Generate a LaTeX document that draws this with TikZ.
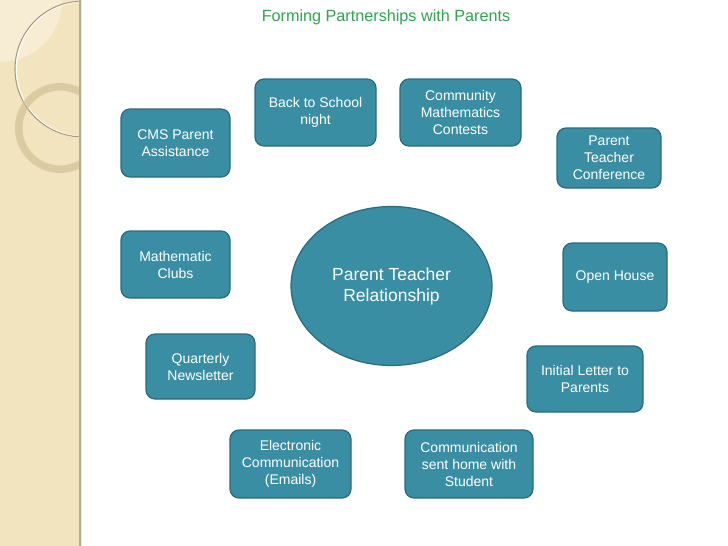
\documentclass[tikz,border=0pt]{standalone}
\usepackage{fontspec}
\setmainfont{Liberation Sans}
\usetikzlibrary{shapes.geometric}
\definecolor{boxfill}{HTML}{3A8EA4}
\definecolor{boxline}{HTML}{2A6B7C}
\definecolor{titlegreen}{HTML}{2FA54E}
\definecolor{strip}{HTML}{F3E4C0}
\definecolor{stripedge}{HTML}{BBAA88}
\definecolor{ringtan}{HTML}{D2C196}
\definecolor{arcgray}{HTML}{A99A78}
\tikzset{
  topic/.style={draw=boxline, line width=1.2pt, fill=boxfill, rounded corners=9pt,
    text=white, align=center, inner sep=0pt, font=\fontsize{14}{17}\selectfont},
  hub/.style={draw=boxline, line width=1.2pt, fill=boxfill, ellipse, text=white,
    align=center, inner sep=0pt, minimum width=201pt, minimum height=159pt,
    font=\fontsize{17.5}{21}\selectfont},
  heading/.style={text=titlegreen, font=\fontsize{16.2}{19}\selectfont}
}
\begin{document}
\begin{tikzpicture}[x=1pt,y=-1pt]
\useasboundingbox (0,0) rectangle (728,546);
\fill[white] (0,0) rectangle (728,546);
% left decorative strip
\fill[strip] (0,0) rectangle (79,546);
\begin{scope}
  \clip (0,0) rectangle (79,546);
  \fill[white, opacity=0.35] (0,0) circle (62);
  \draw[white, line width=2pt] (84,69) circle (68);
  \draw[arcgray, line width=1.1pt] (83,69) circle (68);
  \fill[ringtan, opacity=0.7, even odd rule] (60,128) circle (45) (60,128) circle (37.5);
\end{scope}
\fill[stripedge] (78.5,0) rectangle (80.5,546);
\fill[black!8] (80.5,0) rectangle (82,546);
% title
\node[heading] (title) at (386,17) {Forming Partnerships with Parents};
% hub
\node[hub] (hub) at (391.5,286) {Parent Teacher\\Relationship};
% topics
\node[topic, minimum width=121pt, minimum height=67pt] (bts) at (315.5,112.5) {Back to School\\night};
\node[topic, minimum width=121pt, minimum height=67pt] (cmc) at (460.5,112.5) {Community\\Mathematics\\Contests};
\node[topic, minimum width=109pt, minimum height=68pt] (cms) at (175.5,143) {CMS Parent\\Assistance};
\node[topic, minimum width=104pt, minimum height=60pt] (ptc) at (609,158) {Parent\\Teacher\\Conference};
\node[topic, minimum width=109pt, minimum height=67pt] (mc) at (175.5,264.5) {Mathematic\\Clubs};
\node[topic, minimum width=104pt, minimum height=68pt] (oh) at (615,277) {Open House};
\node[topic, minimum width=109pt, minimum height=65pt] (qn) at (200.5,366.5) {Quarterly\\Newsletter};
\node[topic, minimum width=116pt, minimum height=66pt] (il) at (585,379) {Initial Letter to\\Parents};
\node[topic, minimum width=121pt, minimum height=68pt] (ec) at (290.5,464) {Electronic\\Communication\\(Emails)};
\node[topic, minimum width=128pt, minimum height=68pt] (cs) at (469,464) {Communication\\sent home with\\Student};
\end{tikzpicture}
\end{document}
